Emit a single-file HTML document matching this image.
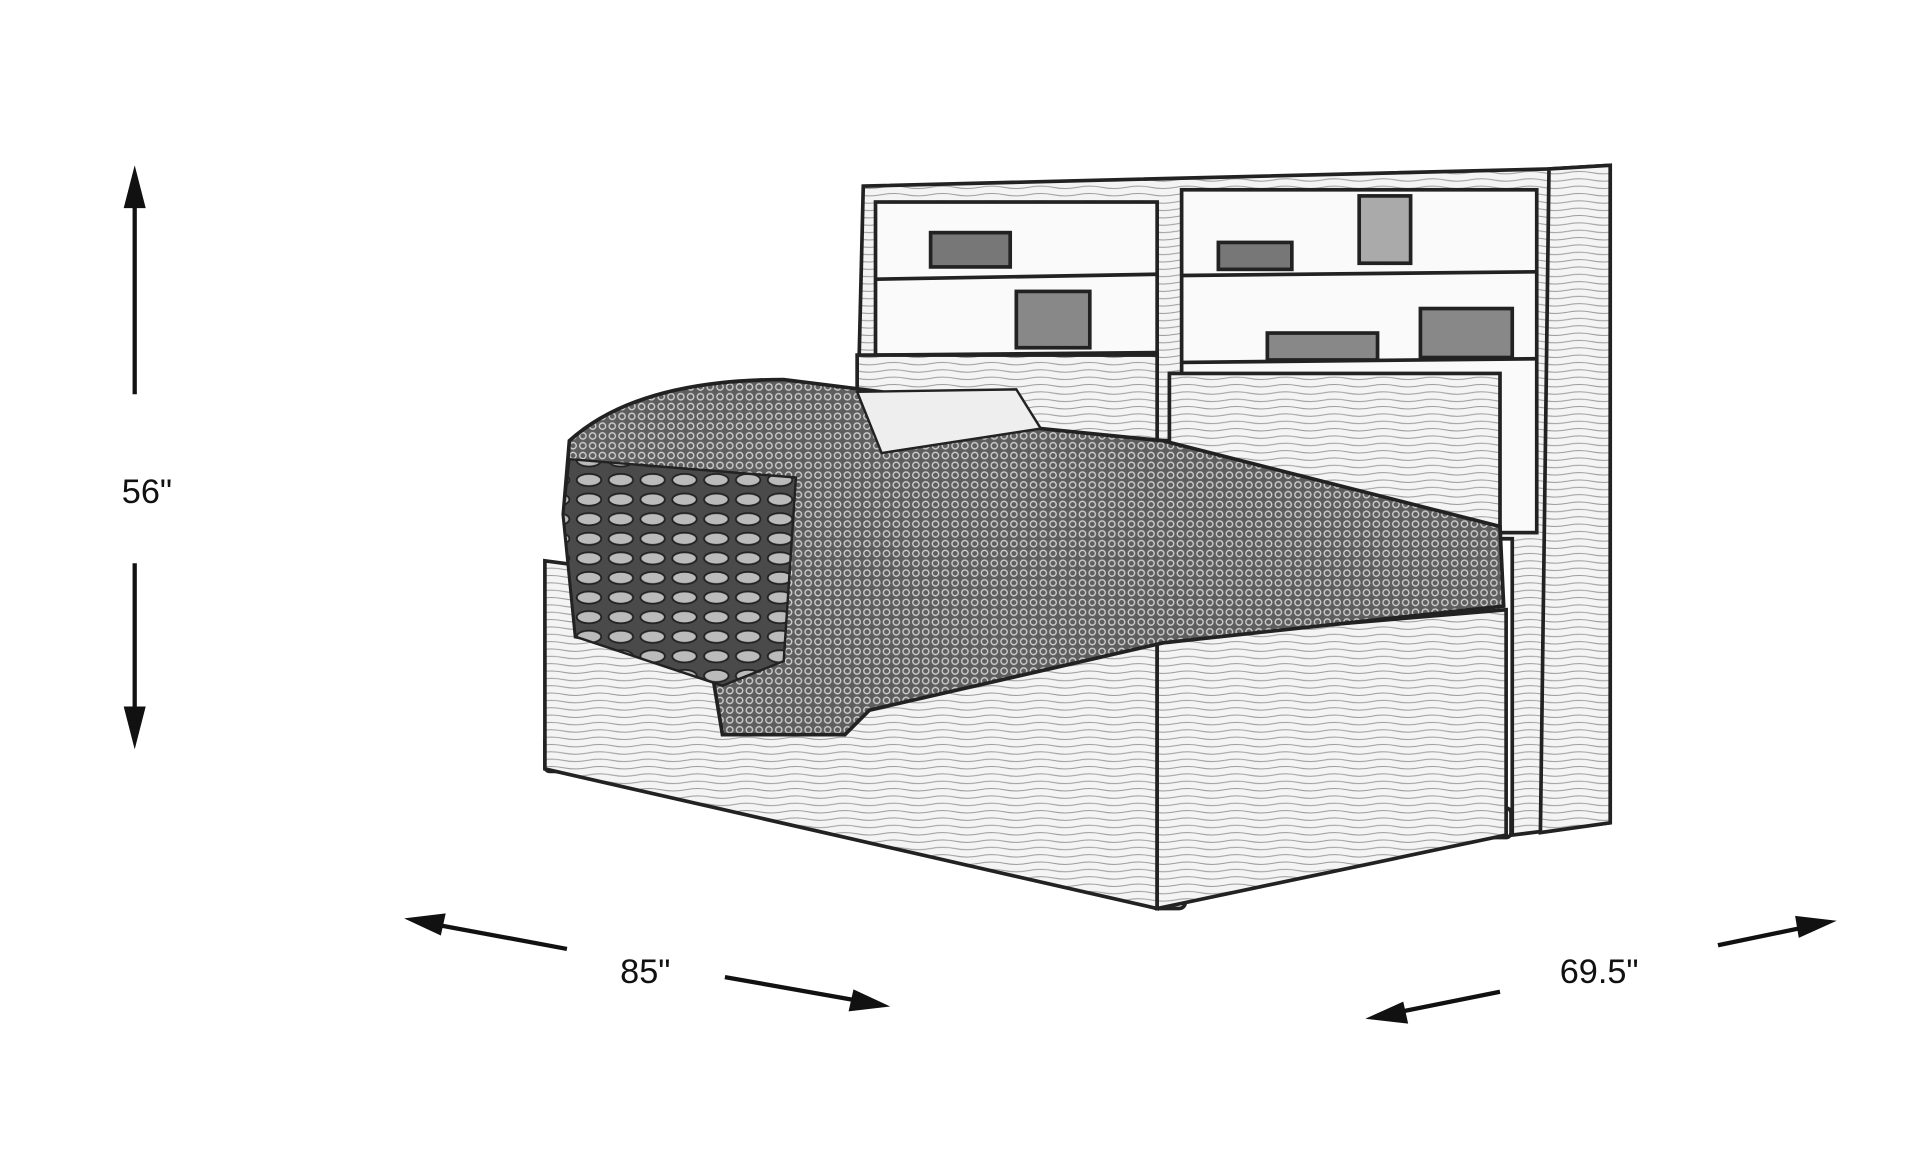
<!DOCTYPE html>
<html><head><style>
html,body{margin:0;padding:0;background:#fff;width:1920px;height:1173px;overflow:hidden}
svg{display:block}
</style></head><body>
<svg width="1920" height="1173" viewBox="0 0 1568 958" preserveAspectRatio="none" xmlns="http://www.w3.org/2000/svg">
<defs>
<pattern id="dots" width="8" height="8" patternUnits="userSpaceOnUse">
<rect width="8" height="8" fill="#5e5e5e"/><circle cx="4" cy="4" r="2.6" fill="none" stroke="#d0d0d0" stroke-width="1.1"/></pattern>
<pattern id="ovals" width="26" height="16" patternUnits="userSpaceOnUse">
<rect width="26" height="16" fill="#4a4a4a"/><ellipse cx="13" cy="8" rx="10" ry="5" fill="#bbb" stroke="#222" stroke-width="1.5"/></pattern>
<pattern id="wood" width="40" height="6" patternUnits="userSpaceOnUse">
<rect width="40" height="6" fill="#f4f4f4"/><path d="M0 3 Q10 1 20 3 T40 3" stroke="#999" fill="none" stroke-width="0.8"/></pattern>
</defs>
<g stroke="#111" stroke-width="3.5" fill="none">
<line x1="110" y1="155" x2="110" y2="322"/>
<line x1="110" y1="460" x2="110" y2="590"/>
<line x1="463" y1="775" x2="350" y2="754"/>
<line x1="592" y1="798" x2="705" y2="818"/>
<line x1="1225" y1="810" x2="1135" y2="828"/>
<line x1="1403" y1="772" x2="1480" y2="756"/>
</g>
<g fill="#111">
<polygon points="110,135 101,170 119,170"/>
<polygon points="110,612 101,577 119,577"/>
<polygon points="330,750 364,746 360,764"/>
<polygon points="727,822 693,826 697,808"/>
<polygon points="1115,832 1146,818 1150,836"/>
<polygon points="1500,752 1469,766 1466,748"/>
</g>
<g font-family="Liberation Sans, sans-serif" font-size="28" fill="#111" text-anchor="middle">
<text x="120" y="411">56"</text>
<text x="527" y="803">85"</text>
<text x="1306" y="803">69.5"</text>
</g>
<g stroke="#222" stroke-width="3">
<polygon points="705,152 1265,138 1315,135 1315,672 1235,682 1235,440 955,440 955,360 700,360" fill="url(#wood)"/>
<path d="M1265,138 L1315,135 L1315,672 L1258,680 Z" fill="url(#wood)"/>
<rect x="715" y="165" width="230" height="180" fill="#fafafa"/>
<rect x="965" y="155" width="290" height="280" fill="#fafafa"/>
<line x1="715" y1="228" x2="945" y2="224"/>
<line x1="965" y1="225" x2="1255" y2="222"/>
<line x1="965" y1="296" x2="1255" y2="293"/>
<line x1="715" y1="290" x2="945" y2="288"/>
<rect x="955" y="305" width="270" height="130" fill="url(#wood)"/>
<rect x="700" y="290" width="245" height="70" fill="url(#wood)"/>
<rect x="830" y="238" width="60" height="46" fill="#888"/>
<rect x="1110" y="160" width="42" height="55" fill="#aaa"/>
<rect x="760" y="190" width="65" height="28" fill="#777"/>
<rect x="995" y="198" width="60" height="22" fill="#777"/>
<rect x="1035" y="272" width="90" height="22" fill="#888"/>
<rect x="1160" y="252" width="75" height="40" fill="#888"/>
</g>
<g stroke="#222" stroke-width="3" fill="#f4f4f4">
<rect x="445" y="600" width="22" height="30" rx="4"/>
<rect x="940" y="700" width="28" height="42" rx="5"/>
<rect x="1210" y="660" width="24" height="24" rx="4"/>
</g>
<polygon points="445,458 945,525 945,742 445,628" fill="url(#wood)" stroke="#222" stroke-width="3"/>
<polygon points="945,522 1230,498 1230,682 945,742" fill="url(#wood)" stroke="#222" stroke-width="3"/>
<path d="M465,360 Q520,310 640,310 L720,320 L850,350 L950,360 L1225,430 L1228,495 L950,525 L710,580 L690,600 L590,600 L580,540 L470,520 L460,420 Z" fill="url(#dots)" stroke="#222" stroke-width="3"/>
<path d="M465,375 L650,390 L640,540 L590,560 L470,520 L460,420 Z" fill="url(#ovals)" stroke="#222" stroke-width="2"/>
<path d="M700,320 L830,318 L850,350 L720,370 Z" fill="#eee" stroke="#222" stroke-width="2"/>
</svg>
</body></html>
